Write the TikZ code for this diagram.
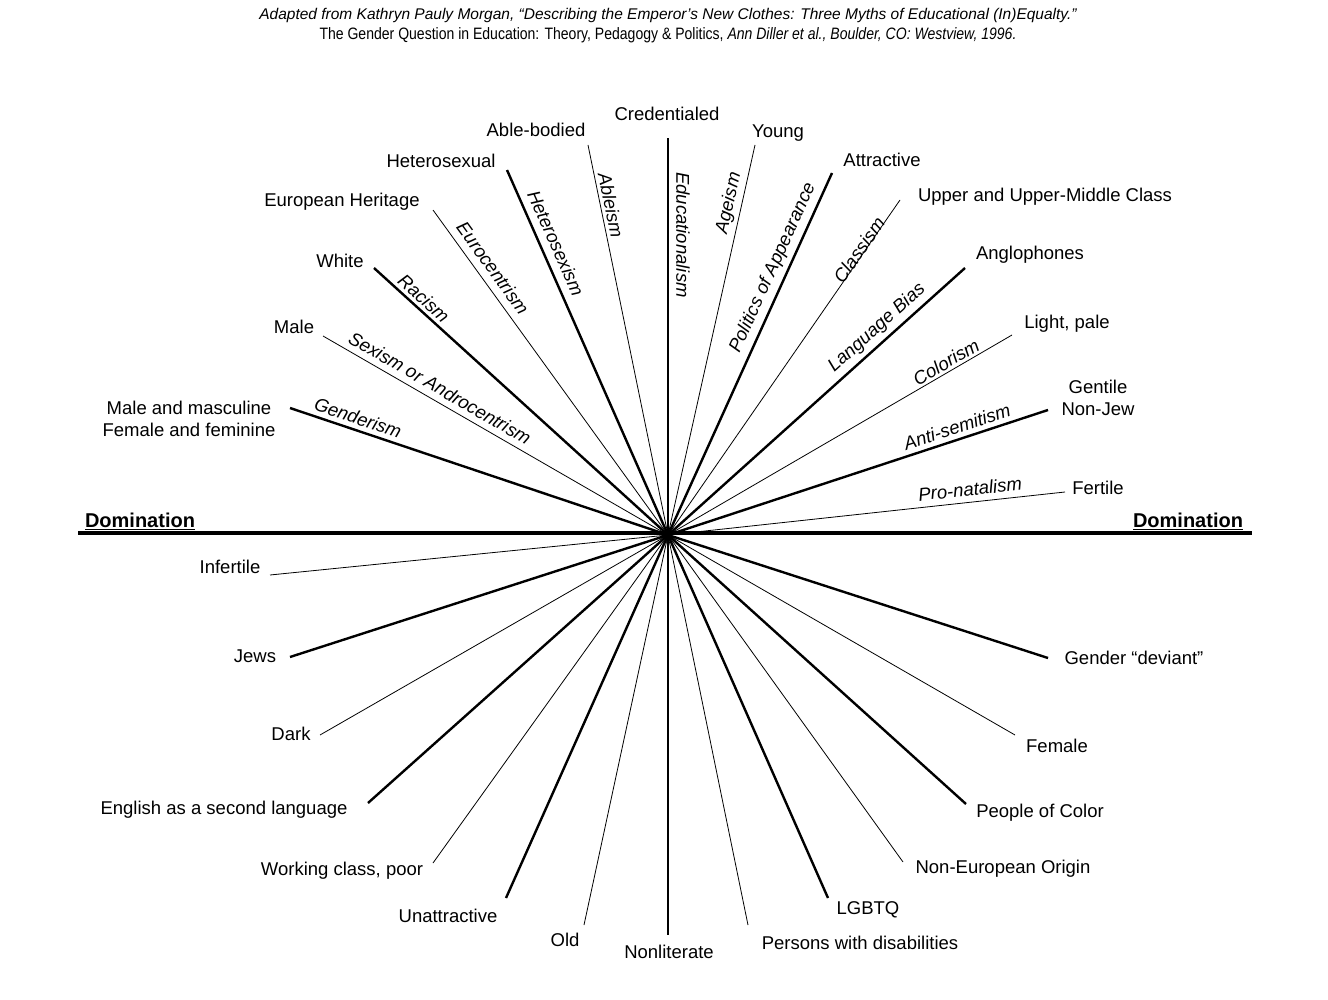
\documentclass[tikz,border=0pt]{standalone}
\usepackage{fontspec}
\setmainfont{Liberation Sans}
\begin{document}
\begin{tikzpicture}[x=1pt,y=-1pt,
  lab/.style={font=\fontsize{18.5}{22}\selectfont,inner sep=1pt},
  ism/.style={font=\fontsize{18.5}{22}\selectfont\itshape,inner sep=1pt},
  thk/.style={line width=2.4pt},
  thn/.style={line width=0.8pt}]
\useasboundingbox (0,0) rectangle (1328,1000);
\node[font=\fontsize{15.5}{17}\selectfont\itshape] (t1) at (668,15) {Adapted from Kathryn Pauly Morgan, “Describing the Emperor’s New Clothes: Three Myths of Educational (In)Equalty.”};
\node[font=\fontsize{16.5}{17}\selectfont] (t2) at (668,35) {\addfontfeature{FakeStretch=0.85}The Gender Question in Education: Theory, Pedagogy \& Politics, \itshape Ann Diller et al., Boulder, CO: Westview, 1996.};
\coordinate (c) at (668,535);
\coordinate (hl) at (78,533); \coordinate (hr) at (1252,533);
\draw[line width=3.2pt] (hl) -- (hr);
\node[font=\fontsize{20}{22}\selectfont\bfseries] (dl) at (140,521) {\underline{Domination}};
\node[font=\fontsize{20}{22}\selectfont\bfseries] (dr) at (1188,521) {\underline{Domination}};
\foreach \n/\x/\y/\s in {u1/668/138/thk,u2/755/145/thn,u3/832/173/thk,u4/900/200/thn,u5/965/268/thk,u6/1012/335/thn,u7/1048/410/thk,u8/1065/492/thn,
 v1/588/145/thn,v2/507/170/thk,v3/433/210/thn,v4/374/268/thk,v5/323/336/thn,v6/290/408/thk,
 w1/270/575/thn,w2/290/657/thk,w3/320/735/thn,w4/368/803/thk,w5/433/863/thn,w6/506/898/thk,w7/584/925/thn,w8/668/935/thk,
 w9/748/925/thn,w10/828/898/thk,w11/903/862/thn,w12/966/804/thk,w13/1015/735/thn,w14/1048/658/thk}
 {\coordinate (\n) at (\x,\y); \draw[\s] (c) -- (\n);}
\node[lab] (l1) at (667,114) {Credentialed};
\node[lab] (l2) at (778,133) {Young};
\node[lab] (l3) at (882,160) {Attractive};
\node[lab] (l4) at (1045,197) {Upper and Upper-Middle Class};
\node[lab] (l5) at (1030,255) {Anglophones};
\node[lab] (l6) at (1067,324) {Light, pale};
\node[lab,align=center] (l7) at (1098,398) {Gentile\\Non-Jew};
\node[lab] (l8) at (1098,488) {Fertile};
\node[lab] (m1) at (536,130) {Able-bodied};
\node[lab] (m2) at (441,161) {Heterosexual};
\node[lab] (m3) at (342,202) {European Heritage};
\node[lab] (m4) at (340,261) {White};
\node[lab] (m5) at (294,327) {Male};
\node[lab,align=center] (m6) at (189,419) {Male and masculine\\Female and feminine};
\node[lab] (n1) at (230,567) {Infertile};
\node[lab] (n2) at (255,656) {Jews};
\node[lab] (n3) at (291,734) {Dark};
\node[lab] (n4) at (224,810) {English as a second language};
\node[lab] (n5) at (342,871) {Working class, poor};
\node[lab] (n6) at (448,916) {Unattractive};
\node[lab] (n7) at (565,940) {Old};
\node[lab] (n8) at (669,952) {Nonliterate};
\node[lab] (n9) at (860,943) {Persons with disabilities};
\node[lab] (n10) at (868,910) {LGBTQ};
\node[lab] (n11) at (1003,869) {Non-European Origin};
\node[lab] (n12) at (1040,813) {People of Color};
\node[lab] (n13) at (1057,746) {Female};
\node[lab] (n14) at (1134,658) {Gender “deviant”};
\node[ism,rotate=-18.6] (i1) at (358,418) {Genderism};
\node[ism,rotate=-30] (i2) at (440,388) {Sexism or Androcentrism};
\node[ism,rotate=-42.2] (i3) at (424,298) {Racism};
\node[ism,rotate=-54] (i4) at (493,268) {Eurocentrism};
\node[ism,rotate=-66] (i5) at (556,243) {Heterosexism};
\node[ism,rotate=-78.4] (i6) at (611,205) {Ableism};
\node[ism,rotate=-90] (i7) at (683,235) {Educationalism};
\node[ism,rotate=77.4] (i8) at (729,203) {Ageism};
\node[ism,rotate=65.6] (i9) at (773,268) {Politics of Appearance};
\node[ism,rotate=55.3] (i10) at (859,250) {Classism};
\node[ism,rotate=42] (i11) at (877,328) {Language Bias};
\node[ism,rotate=30.2] (i12) at (946,362) {Colorism};
\node[ism,rotate=18.2] (i13) at (957,427) {Anti-semitism};
\node[ism,rotate=6.2] (i14) at (970,489) {Pro-natalism};
\end{tikzpicture}
\end{document}
